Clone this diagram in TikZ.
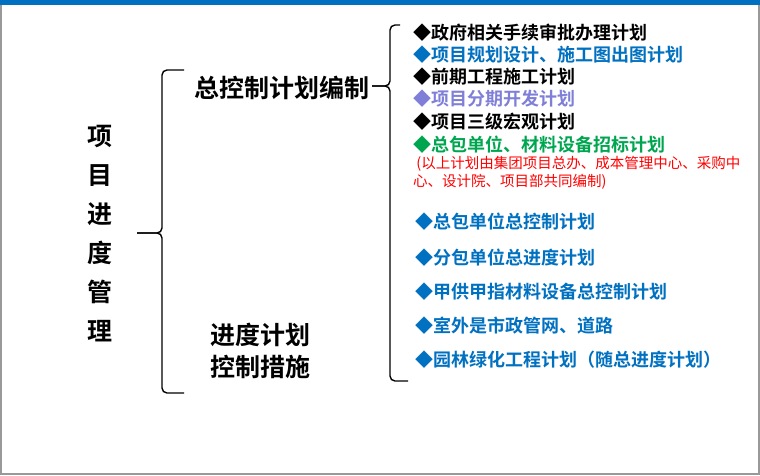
\documentclass[tikz,border=0pt]{standalone}
\usepackage{fontspec}
\newfontfamily\cjk{Noto Sans CJK SC Bold}
\newfontfamily\cjkr{Noto Sans CJK SC}
\definecolor{bl}{HTML}{0070C0}
\definecolor{pu}{HTML}{7F7FD8}
\definecolor{gr}{HTML}{00A550}
\definecolor{rd}{HTML}{FF0000}
\begin{document}
\begin{tikzpicture}[x=1pt,y=-1pt,
  item/.style={anchor=west,font=\cjk\fontsize{18}{20}\selectfont,inner sep=0pt},
  big/.style={font=\cjk\fontsize{25}{32}\selectfont,inner sep=0pt},
  brace/.style={line width=1.4pt,rounded corners=5pt}]
\useasboundingbox (0,0) rectangle (760,475);
\draw[gray!80,line width=2pt] (1,1) rectangle (759,474);
\fill[bl] (0,0) rectangle (760,5);
\node[big,align=center,font=\cjk\fontsize{25}{39}\selectfont] (main) at (100,234) {项\\目\\进\\度\\管\\理};
\node[big] (a) at (282,88) {总控制计划编制};
\node[big,align=left] (b) at (260,351) {进度计划\\控制措施};
\coordinate (ltop) at (184,70); \coordinate (lbot) at (184,393);
\draw[brace] (ltop) -- (162,70) -- (162,233) -- (137,233);
\draw[brace] (137,233) -- (162,233) -- (162,393) -- (lbot);
\draw[brace] (400,25) -- (390,25) -- (390,86) -- (372,86);
\draw[brace] (372,86) -- (390,86) -- (390,381) -- (408,381);
\node[item] (i1) at (413,33) {◆政府相关手续审批办理计划};
\node[item,text=bl] (i2) at (413,55) {◆项目规划设计、施工图出图计划};
\node[item] (i3) at (413,77) {◆前期工程施工计划};
\node[item,text=pu] (i4) at (413,99) {◆项目分期开发计划};
\node[item] (i5) at (413,122) {◆项目三级宏观计划};
\node[item,text=gr] (i6) at (413,145) {◆总包单位、材料设备招标计划};
\node[anchor=west,inner sep=0pt,text=rd,font=\cjkr\fontsize{14.5}{18}\selectfont,align=left] (note) at (413,173) {\ (以上计划由集团项目总办、成本管理中心、采购中\\心、设计院、项目部共同编制)};
\node[item,text=bl] (j1) at (415,222) {◆总包单位总控制计划};
\node[item,text=bl] (j2) at (415,258) {◆分包单位总进度计划};
\node[item,text=bl] (j3) at (415,292) {◆甲供甲指材料设备总控制计划};
\node[item,text=bl] (j4) at (415,326) {◆室外是市政管网、道路};
\node[item,text=bl] (j5) at (415,360) {◆园林绿化工程计划（随总进度计划）};
\end{tikzpicture}
\end{document}
